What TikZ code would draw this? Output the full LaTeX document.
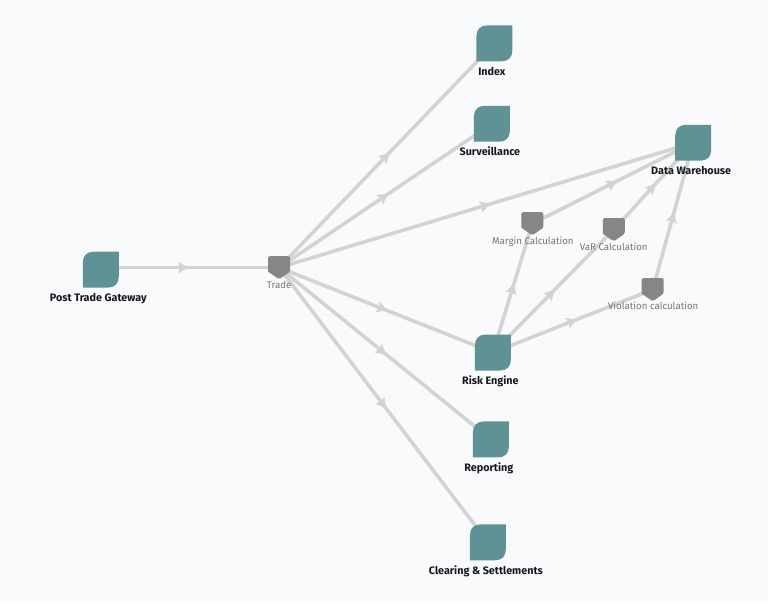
\documentclass[tikz,border=0pt]{standalone}
\usepackage{fontspec}
\setmainfont{Fira Sans}
\usetikzlibrary{arrows.meta,decorations.markings,backgrounds}
\definecolor{bgcol}{HTML}{F9FAFC}
\definecolor{gridcol}{HTML}{F4F6F8}
\definecolor{leafcol}{HTML}{5F9295}
\definecolor{shieldcol}{HTML}{868686}
\definecolor{edgecol}{HTML}{D3D3D3}
\definecolor{boldtxt}{HTML}{17181C}
\definecolor{greytxt}{HTML}{737578}
\tikzset{
  x=1pt,y=-1pt,
  anchorbox/.style={inner sep=0pt,minimum size=20pt,draw=none},
  leaftext/.style={font=\fontsize{10.8}{12}\selectfont\bfseries,text=boldtxt,inner sep=0pt,anchor=base},
  shieldtext/.style={font=\fontsize{9.7}{11}\selectfont,text=greytxt,inner sep=0pt,anchor=base},
  flow/.style={draw=edgecol,line width=3.6pt,postaction={decorate},
    decoration={markings,mark=at position #1 with {\arrow[edgecol]{Stealth[length=10pt,width=11pt,inset=1.5pt]}}}},
  flow/.default=0.5
}
\newcommand{\leafnode}[6]{%
  \node[anchorbox] (#1) at (#2,#3) {};
  \fill[leafcol,shift={(#1.center)}] (-18,-7) .. controls (-18,-14) and (-14,-18) .. (-7,-18) -- (18,-18) -- (18,7) .. controls (18,14) and (14,18) .. (7,18) -- (-18,18) -- cycle;
  \node[leaftext] (#1text) at (#4,#5) {#6};
}
\newcommand{\shieldnode}[6]{%
  \node[anchorbox] (#1) at (#2,#3) {};
  \fill[shieldcol,shift={(#1.center)},rounded corners=1.5pt] (-11,-11.5) -- (11,-11.5) -- (11,4) -- (0,11.7) [sharp corners] -- (-11,4) [rounded corners=1.5pt] -- cycle;
  \node[shieldtext] (#1text) at (#4,#5) {#6};
}
\begin{document}
\begin{tikzpicture}
\leafnode{gateway}{100.5}{269.5}{98}{301.5}{Post Trade Gateway}
\leafnode{index}{494.5}{43}{492}{75.5}{Index}
\leafnode{surv}{492}{123.5}{490}{155.5}{Surveillance}
\leafnode{dw}{693.5}{142.5}{691.5}{174.5}{Data Warehouse}
\leafnode{risk}{493}{352.5}{490.5}{384.5}{Risk Engine}
\leafnode{report}{491}{439.5}{489}{471.5}{Reporting}
\leafnode{clear}{488}{542.5}{486}{574.5}{Clearing \& Settlements}
\shieldnode{trade}{279}{267.5}{279}{288.5}{Trade}
\shieldnode{margin}{532.5}{223.5}{533}{244.5}{Margin Calculation}
\shieldnode{var}{614}{229.5}{614}{250.5}{VaR Calculation}
\shieldnode{viol}{653}{289.5}{653.5}{309.5}{Violation calculation}
\begin{scope}[on background layer]
  \fill[bgcol] (0,0) rectangle (768,603);
  \foreach \g in {78,157,...,760} {\draw[gridcol,line width=0.8pt] (\g,0) -- (\g,603);}
  \foreach \g in {78,157,...,600} {\draw[gridcol,line width=0.8pt] (0,\g) -- (768,\g);}
  \draw[flow=0.46] (gateway.east |- trade.center) -- (trade.center);
  \draw[flow=0.512] (trade.center) -- (index.center);
  \draw[flow=0.512] (trade.center) -- (surv.center);
  \draw[flow=0.51] (trade.center) -- (dw.center);
  \draw[flow=0.505] (trade.center) -- (risk.center);
  \draw[flow=0.505] (trade.center) -- (report.center);
  \draw[flow=0.512] (trade.center) -- (clear.center);
  \draw[flow=0.524] (margin.center) -- (dw.center);
  \draw[flow=0.526] (var.center) -- (dw.center);
  \draw[flow=0.525] (viol.center) -- (dw.center);
  \draw[flow=0.533] (risk.center) -- (margin.center);
  \draw[flow=0.51] (risk.center) -- (var.center);
  \draw[flow=0.525] (risk.center) -- (viol.center);
\end{scope}
\end{tikzpicture}
\end{document}
